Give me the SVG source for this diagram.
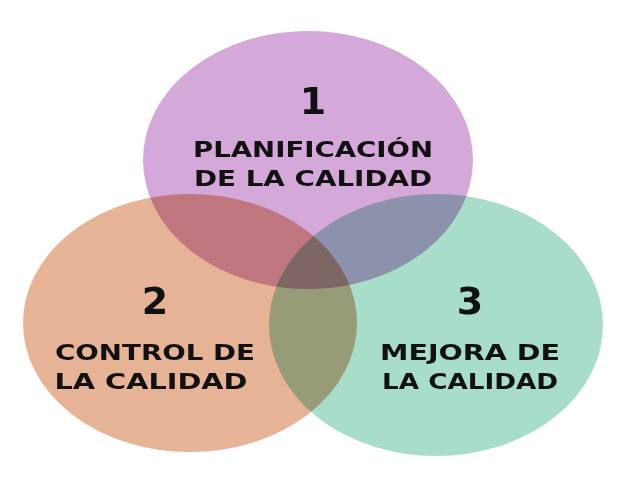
<svg xmlns="http://www.w3.org/2000/svg" width="640" height="479" viewBox="0 0 640 479">
<style>
.e{mix-blend-mode:multiply;stroke:#fff;stroke-width:2}
.t{font-family:"DejaVu Sans",Verdana,sans-serif;font-weight:bold;fill:#111;text-anchor:middle}
.n{font-size:38px}.l{font-size:22px}
</style>
<rect width="640" height="479" fill="#fff"/>
<g id="node1"><ellipse class="e" cx="308" cy="160" rx="166" ry="130" fill="#d4a8d8"/></g>
<g id="node2"><ellipse class="e" cx="190" cy="323" rx="168" ry="130" fill="#e6b396"/></g>
<g id="node3"><ellipse class="e" cx="436" cy="325" rx="168" ry="132" fill="#a8ddca"/></g>
<g id="labels">
<text class="t n" x="313" y="114">1</text>
<text class="t l" x="313" y="157" textLength="240" lengthAdjust="spacingAndGlyphs">PLANIFICACIÓN</text>
<text class="t l" x="313" y="186" textLength="238" lengthAdjust="spacingAndGlyphs">DE LA CALIDAD</text>
<text class="t n" x="155" y="314">2</text>
<text class="t l" x="155" y="360" textLength="200" lengthAdjust="spacingAndGlyphs">CONTROL DE</text>
<text class="t l" x="151" y="389" textLength="193" lengthAdjust="spacingAndGlyphs">LA CALIDAD</text>
<text class="t n" x="470" y="314">3</text>
<text class="t l" x="470" y="360" textLength="180" lengthAdjust="spacingAndGlyphs">MEJORA DE</text>
<text class="t l" x="470" y="389" textLength="176" lengthAdjust="spacingAndGlyphs">LA CALIDAD</text>
</g>
<g id="connectors"/>
</svg>
